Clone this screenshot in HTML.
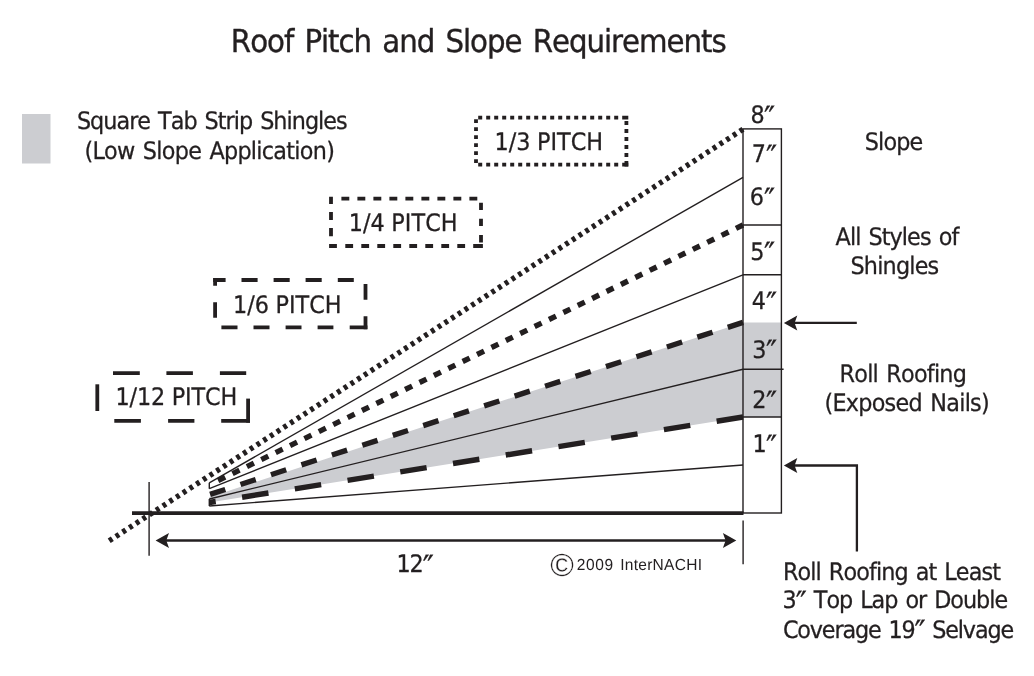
<!DOCTYPE html>
<html lang="en">
<head>
<meta charset="utf-8">
<title>Roof Pitch and Slope Requirements</title>
<style>
html,body{margin:0;padding:0;background:#fff;}
body{width:1034px;height:676px;overflow:hidden;}
svg{display:block;}
text{white-space:pre;text-rendering:geometricPrecision;font-variant-ligatures:none;font-kerning:none;}
.f1{font-family:"DejaVu Sans", "Liberation Sans", sans-serif;}
.f2,.f3{font-family:"Liberation Sans", sans-serif;}
</style>
</head>
<body>
<svg width="1034" height="676" viewBox="0 0 1034 676">
<rect x="0" y="0" width="1034" height="676" fill="#fff"/>
<g fill="none" stroke="#231f20">
<polygon points="209.3,497.2 324.0,459.4 500.0,401.6 743.0,322.4 781.4,322.4 781.4,417.0 743.0,417.0 209.3,502.5" fill="#cccdd1" stroke="none"/>
<rect x="22" y="114" width="28.5" height="49.5" fill="#cccdd1" stroke="none"/>
<line x1="209.30" y1="482.80" x2="743.00" y2="177.40" stroke-width="1.4"/>
<line x1="209.30" y1="488.70" x2="743.00" y2="274.80" stroke-width="1.4"/>
<line x1="209.30" y1="499.00" x2="743.00" y2="369.20" stroke-width="1.4"/>
<line x1="209.30" y1="506.00" x2="743.00" y2="465.00" stroke-width="1.4"/>
<line x1="209.30" y1="482.80" x2="209.30" y2="488.70" stroke-width="1.4"/>
<line x1="209.30" y1="499.00" x2="209.30" y2="506.00" stroke-width="1.4"/>
<rect x="743.0" y="128.9" width="38.4" height="384.1" stroke-width="1.4"/>
<line x1="743.00" y1="225.00" x2="781.40" y2="225.00" stroke-width="1.4"/>
<line x1="743.00" y1="274.80" x2="781.40" y2="274.80" stroke-width="1.4"/>
<line x1="743.00" y1="417.00" x2="781.40" y2="417.00" stroke-width="1.4"/>
<line x1="743.00" y1="369.20" x2="783.60" y2="369.20" stroke-width="1.4"/>
<line x1="132.00" y1="513.10" x2="743.50" y2="513.10" stroke-width="3.6"/>
<line x1="149.10" y1="482.10" x2="149.10" y2="555.80" stroke-width="1.4"/>
<line x1="743.10" y1="520.40" x2="743.10" y2="564.30" stroke-width="1.4"/>
<line x1="743.00" y1="225.00" x2="210.80" y2="484.17" stroke-width="5.4" stroke-dasharray="7.8 8.2"/>
<line x1="743.00" y1="322.40" x2="209.80" y2="494.44" stroke-width="5.4" stroke-dasharray="16 16"/>
<line x1="743.00" y1="417.00" x2="209.30" y2="502.50" stroke-width="5.4" stroke-dasharray="26.7 26.7"/>
<line x1="743.00" y1="129.20" x2="109.20" y2="540.80" stroke-width="5.4" stroke-dasharray="3.8 4.2"/>
<line x1="162.00" y1="540.50" x2="730.00" y2="540.50" stroke-width="2.3"/>
<path d="M155.6 540.5 L169.0 533.0 L166.3 540.5 L169.0 548.0 Z" fill="#231f20" stroke="none"/>
<path d="M736.3 540.5 L722.9 533.0 L725.6 540.5 L722.9 548.0 Z" fill="#231f20" stroke="none"/>
<line x1="790.00" y1="322.90" x2="856.80" y2="322.90" stroke-width="2.1"/>
<path d="M783.9 322.9 L797.3 315.4 L794.6 322.9 L797.3 330.4 Z" fill="#231f20" stroke="none"/>
<path d="M790 465.5 H856.9 V551.4" stroke-width="2.3"/>
<path d="M783.9 465.5 L797.3 458.0 L794.6 465.5 L797.3 473.0 Z" fill="#231f20" stroke="none"/>
<path d="M478.2 117.6H482.2M486.2 117.6H490.2M494.2 117.6H498.2M502.2 117.6H506.2M510.2 117.6H514.2M518.2 117.6H522.2M526.2 117.6H530.2M534.2 117.6H538.2M542.2 117.6H546.2M550.2 117.6H554.2M558.2 117.6H562.2M566.2 117.6H570.2M574.2 117.6H578.2M582.2 117.6H586.2M590.2 117.6H594.2M598.2 117.6H602.2M606.2 117.6H610.2M614.2 117.6H618.2M622.2 117.6H628.3" stroke-width="3.8"/>
<path d="M478.2 164.6H482.2M486.2 164.6H490.2M494.2 164.6H498.2M502.2 164.6H506.2M510.2 164.6H514.2M518.2 164.6H522.2M526.2 164.6H530.2M534.2 164.6H538.2M542.2 164.6H546.2M550.2 164.6H554.2M558.2 164.6H562.2M566.2 164.6H570.2M574.2 164.6H578.2M582.2 164.6H586.2M590.2 164.6H594.2M598.2 164.6H602.2M606.2 164.6H610.2M614.2 164.6H618.2M622.2 164.6H628.3" stroke-width="3.8"/>
<path d="M476.0 119.3V122.9M476.0 127.2V131.0M476.0 135.2V139.0M476.0 143.2V147.0M476.0 151.2V155.0M476.0 159.2V163.0" stroke-width="3.8"/>
<path d="M626.4 121.1V124.9M626.4 129.1V132.9M626.4 137.1V140.9M626.4 145.1V148.9M626.4 153.1V156.9M626.4 161.1V166.5" stroke-width="3.8"/>
<path d="M341.4 198.6H349.3M357.4 198.6H365.3M373.4 198.6H381.3M389.4 198.6H397.3M405.4 198.6H413.3M421.4 198.6H429.3M437.4 198.6H445.3M453.4 198.6H461.3M469.4 198.6H477.3" stroke-width="3.8"/>
<path d="M329.1 246.0H336.9M345.3 246.0H353.1M361.3 246.0H369.1M377.3 246.0H385.1M393.3 246.0H401.1M409.3 246.0H417.1M425.3 246.0H433.1M441.3 246.0H449.1M457.3 246.0H465.1M473.2 246.0H482.9" stroke-width="3.8"/>
<path d="M331.0 196.7V204.0M331.0 212.1V220.0M331.0 228.1V236.3" stroke-width="3.8"/>
<path d="M481.0 202.8V210.0M481.0 218.7V226.1M481.0 235.1V242.6" stroke-width="3.8"/>
<path d="M213.2 280.0H225.6M241.5 280.0H257.6M273.6 280.0H289.7M305.6 280.0H321.7M337.8 280.0H353.8" stroke-width="3.8"/>
<path d="M221.4 327.3H237.5M253.5 327.3H269.5M285.6 327.3H301.5M317.6 327.3H333.4M349.7 327.3H367.4" stroke-width="3.8"/>
<path d="M215.1 278.1V285.8M215.1 302.2V317.7" stroke-width="3.8"/>
<path d="M365.5 284.1V299.7M365.5 316.2V329.2" stroke-width="3.8"/>
<path d="M113.0 373.2H139.8M166.4 373.2H192.9M219.9 373.2H246.2" stroke-width="3.8"/>
<path d="M114.3 420.8H140.9M168.1 420.8H194.4M221.2 420.8H250.0" stroke-width="3.8"/>
<path d="M97.3 384.3V411.0" stroke-width="3.8"/>
<path d="M248.1 398.6V422.7" stroke-width="3.8"/>
</g>
<g fill="#231f20" stroke="#231f20" stroke-width="0.25" stroke-linejoin="round">
<text class="f1" transform="translate(230.87,51.50) scale(0.93,1)" font-size="31.5" textLength="533.15" lengthAdjust="spacing" stroke-width="0.39" style="word-spacing:3.2px">Roof Pitch and Slope Requirements</text>
<text class="f1" transform="translate(76.89,129.00) scale(0.93,1)" font-size="24" textLength="291.18" lengthAdjust="spacing" stroke-width="0.30" style="word-spacing:2.0px">Square Tab Strip Shingles</text>
<text class="f1" transform="translate(84.42,158.60) scale(0.93,1)" font-size="24" textLength="269.35" lengthAdjust="spacing" stroke-width="0.30" style="word-spacing:2.0px">(Low Slope Application)</text>
<text class="f1" transform="translate(494.55,149.50) scale(0.93,1)" font-size="24" textLength="116.69" lengthAdjust="spacing" stroke-width="0.30" style="word-spacing:-0.5px">1/3 PITCH</text>
<text class="f1" transform="translate(348.68,230.80) scale(0.93,1)" font-size="24" textLength="117.07" lengthAdjust="spacing" stroke-width="0.30" style="word-spacing:-0.5px">1/4 PITCH</text>
<text class="f1" transform="translate(232.99,312.50) scale(0.93,1)" font-size="24" textLength="116.80" lengthAdjust="spacing" stroke-width="0.30" style="word-spacing:-0.5px">1/6 PITCH</text>
<text class="f1" transform="translate(115.52,405.30) scale(0.93,1)" font-size="24" textLength="130.81" lengthAdjust="spacing" stroke-width="0.30" style="word-spacing:-0.5px">1/12 PITCH</text>
<text class="f1" transform="translate(864.69,149.60) scale(0.93,1)" font-size="24" textLength="63.01" lengthAdjust="spacing" stroke-width="0.30" style="word-spacing:2.0px">Slope</text>
<text class="f1" transform="translate(835.61,245.10) scale(0.93,1)" font-size="24" textLength="132.94" lengthAdjust="spacing" stroke-width="0.30" style="word-spacing:2.0px">All Styles of</text>
<text class="f1" transform="translate(850.49,273.90) scale(0.93,1)" font-size="24" textLength="95.37" lengthAdjust="spacing" stroke-width="0.30" style="word-spacing:2.0px">Shingles</text>
<text class="f1" transform="translate(839.55,381.80) scale(0.93,1)" font-size="24" textLength="136.91" lengthAdjust="spacing" stroke-width="0.30" style="word-spacing:2.0px">Roll Roofing</text>
<text class="f1" transform="translate(824.39,411.20) scale(0.93,1)" font-size="24" textLength="177.81" lengthAdjust="spacing" stroke-width="0.30" style="word-spacing:2.0px">(Exposed Nails)</text>
<text class="f1" transform="translate(782.91,579.50) scale(0.93,1)" font-size="24" textLength="234.43" lengthAdjust="spacing" stroke-width="0.30" style="word-spacing:2.0px">Roll Roofing at Least</text>
<text class="f1" transform="translate(782.56,608.40) scale(0.93,1)" font-size="24" textLength="242.63" lengthAdjust="spacing" stroke-width="0.30" style="word-spacing:2.0px">3<tspan font-size="32" dy="5.7">″</tspan><tspan dy="-5.7"> Top Lap or Double</tspan></text>
<text class="f1" transform="translate(782.88,637.50) scale(0.93,1)" font-size="24" textLength="248.73" lengthAdjust="spacing" stroke-width="0.30" style="word-spacing:2.0px">Coverage 19<tspan font-size="32" dy="5.7">″</tspan><tspan dy="-5.7"> Selvage</tspan></text>
<text class="f1" transform="translate(396.44,571.90) scale(0.93,1)" font-size="24" textLength="40.18" lengthAdjust="spacing" stroke-width="0.30" style="word-spacing:2.0px">12<tspan font-size="32" dy="5.7">″</tspan></text>
<text class="f1" transform="translate(750.49,123.15) scale(0.93,1)" font-size="24" textLength="26.42" lengthAdjust="spacing" stroke-width="0.30" style="word-spacing:2.0px">8<tspan font-size="32" dy="5.7">″</tspan></text>
<text class="f1" transform="translate(751.67,162.25) scale(0.93,1)" font-size="24" textLength="27.45" lengthAdjust="spacing" stroke-width="0.30" style="word-spacing:2.0px">7<tspan font-size="32" dy="5.7">″</tspan></text>
<text class="f1" transform="translate(749.77,204.85) scale(0.93,1)" font-size="24" textLength="27.19" lengthAdjust="spacing" stroke-width="0.30" style="word-spacing:2.0px">6<tspan font-size="32" dy="5.7">″</tspan></text>
<text class="f1" transform="translate(750.18,259.75) scale(0.93,1)" font-size="24" textLength="26.76" lengthAdjust="spacing" stroke-width="0.30" style="word-spacing:2.0px">5<tspan font-size="32" dy="5.7">″</tspan></text>
<text class="f1" transform="translate(751.67,309.45) scale(0.93,1)" font-size="24" textLength="27.28" lengthAdjust="spacing" stroke-width="0.30" style="word-spacing:2.0px">4<tspan font-size="32" dy="5.7">″</tspan></text>
<text class="f1" transform="translate(752.34,357.55) scale(0.93,1)" font-size="24" textLength="26.73" lengthAdjust="spacing" stroke-width="0.30" style="word-spacing:2.0px">3<tspan font-size="32" dy="5.7">″</tspan></text>
<text class="f1" transform="translate(752.33,408.25) scale(0.93,1)" font-size="24" textLength="26.74" lengthAdjust="spacing" stroke-width="0.30" style="word-spacing:2.0px">2<tspan font-size="32" dy="5.7">″</tspan></text>
<text class="f1" transform="translate(752.46,452.15) scale(0.93,1)" font-size="24" textLength="26.43" lengthAdjust="spacing" stroke-width="0.30" style="word-spacing:2.0px">1<tspan font-size="32" dy="5.7">″</tspan></text>
<text class="f3" transform="translate(550.34,575.80) scale(1.0,1)" font-size="32" textLength="19.11" lengthAdjust="spacing" stroke="#fff" stroke-width="0.25" style="word-spacing:0px">©</text>
<text class="f2" transform="translate(576.83,570.20) scale(0.97,1)" font-size="16" textLength="37.37" lengthAdjust="spacing" stroke="none" style="word-spacing:0px">2009</text>
<text class="f2" transform="translate(620.16,570.20) scale(0.97,1)" font-size="16" textLength="84.42" lengthAdjust="spacing" stroke="none" style="word-spacing:0px">InterNACHI</text>
</g>
</svg>
</body>
</html>
